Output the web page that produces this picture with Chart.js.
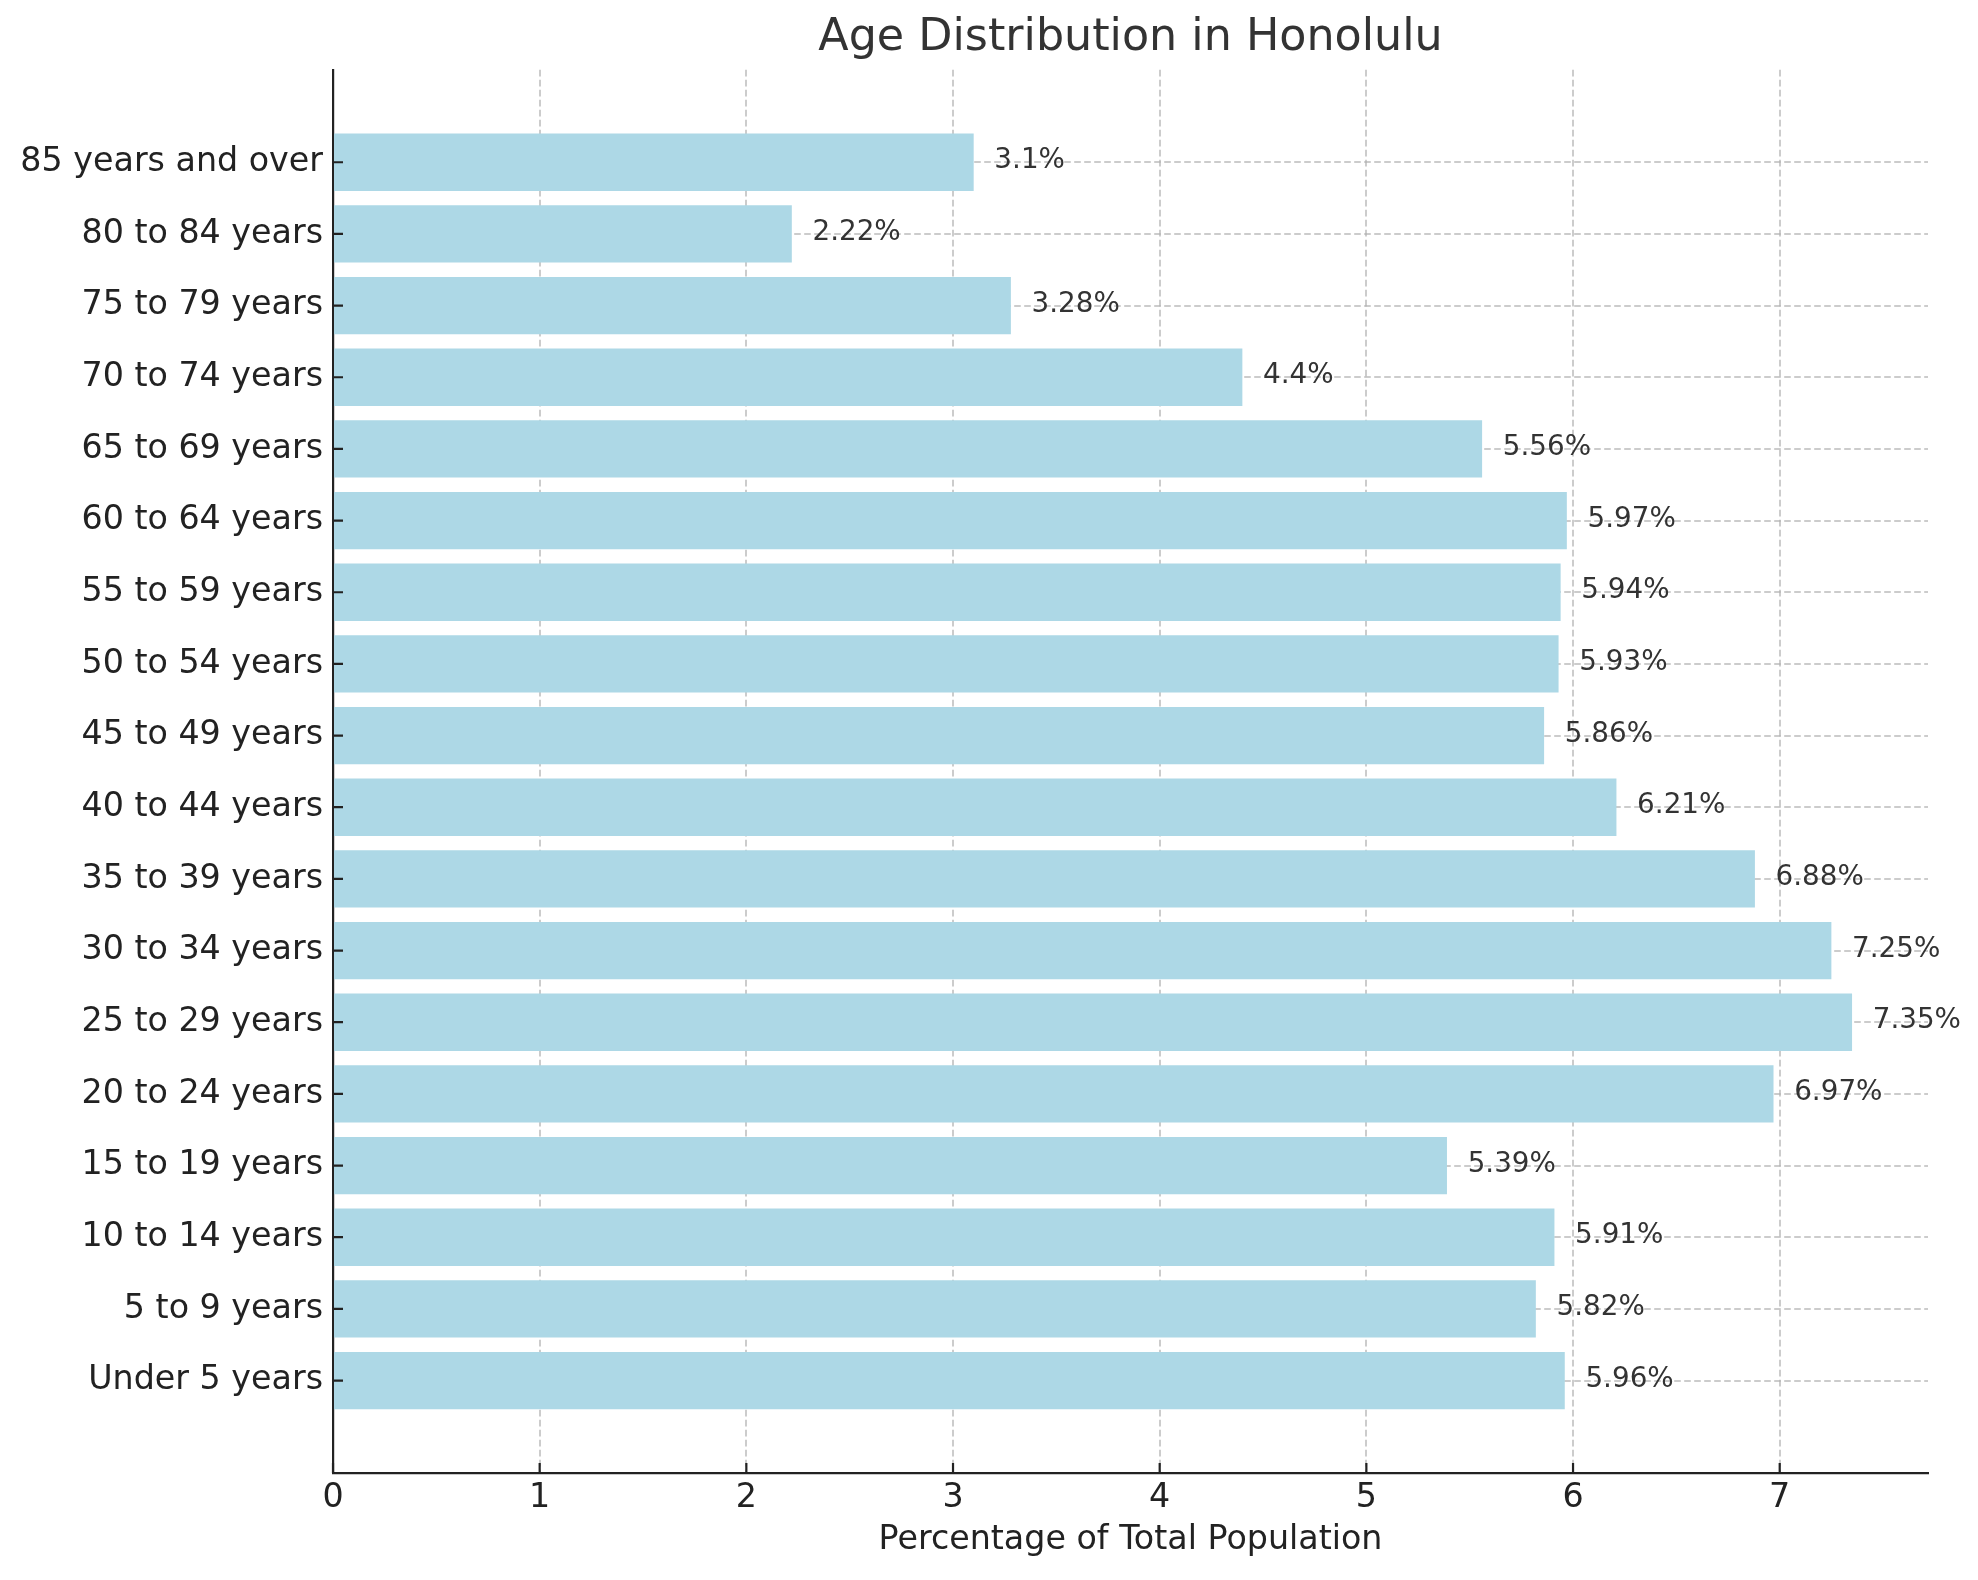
<!DOCTYPE html>
<html>
<head>
<meta charset="utf-8">
<script src="https://cdn.jsdelivr.net/npm/chart.js@4.4.1/dist/chart.umd.min.js"></script>
<style>
  body { margin: 0; background: #fff; }
  #wrap { width: 1978px; height: 1580px; }
</style>
</head>
<body>
<div id="wrap"><canvas id="myChart" width="1978" height="1580"></canvas></div>
<script>
// age groups, bottom to top
var categories = ['Under 5 years', '5 to 9 years', '10 to 14 years', '15 to 19 years',
    '20 to 24 years', '25 to 29 years', '30 to 34 years', '35 to 39 years',
    '40 to 44 years', '45 to 49 years', '50 to 54 years', '55 to 59 years',
    '60 to 64 years', '65 to 69 years', '70 to 74 years', '75 to 79 years',
    '80 to 84 years', '85 years and over'];
var percentages = [5.96, 5.82, 5.91, 5.39, 6.97, 7.35, 7.25, 6.88, 6.21, 5.86,
    5.93, 5.94, 5.97, 5.56, 4.4, 3.28, 2.22, 3.1];
var xTicks = [0, 1, 2, 3, 4, 5, 6, 7];

var font = 'DejaVu Sans';
var axisColor = '#222';
var gridColor = 'rgba(176,176,176,0.65)';

// bar value text and inward tick marks
var extras = {
    id: 'extras',
    afterDraw: function (chart) {
        var c = chart.ctx;
        var xs = chart.scales.x, ys = chart.scales.y;
        var area = chart.chartArea;
        c.save();
        c.strokeStyle = axisColor;
        c.lineWidth = 2.2;
        c.beginPath();
        ys.ticks.forEach(function (t) {
            var py = ys.getPixelForValue(t.value);
            c.moveTo(area.left, py);
            c.lineTo(area.left + 10, py);
        });
        xs.ticks.forEach(function (t) {
            var px = xs.getPixelForValue(t.value);
            c.moveTo(px, area.bottom);
            c.lineTo(px, area.bottom - 10);
        });
        c.stroke();

        c.fillStyle = '#333';
        c.font = '27.8px "' + font + '"';
        c.textBaseline = 'middle';
        c.textAlign = 'left';
        chart.getDatasetMeta(0).data.forEach(function (bar, i) {
            var v = percentages[i];
            c.fillText(v + '%', xs.getPixelForValue(v + 0.1), bar.y - 1);
        });
        c.restore();
    }
};

var ctx = document.getElementById('myChart').getContext('2d');

var myChart = new Chart(ctx, {
    type: 'bar',
    data: {
        datasets: [{
            label: 'Percentage',
            data: percentages.map(function (v, i) { return { x: v, y: i }; }),
            backgroundColor: '#ADD8E6',
            borderWidth: 0,
            barPercentage: 0.8,
            categoryPercentage: 1.0
        }]
    },
    options: {
        indexAxis: 'y',
        responsive: false,
        animation: false,
        devicePixelRatio: 1,
        layout: { padding: { left: 0, right: 50, top: 0, bottom: 0 } },
        plugins: {
            legend: { display: false },
            tooltip: { enabled: false },
            title: {
                display: true,
                text: 'Age Distribution in Honolulu',
                fullSize: false,
                color: '#333',
                font: { family: font, size: 44.4, weight: 'normal' },
                padding: { top: 12, bottom: 4.5 }
            }
        },
        scales: {
            x: {
                type: 'linear',
                min: 0,
                max: 7.7175,
                z: 1,
                afterFit: function (s) { s.height = 107; },
                afterBuildTicks: function (s) {
                    s.ticks = xTicks.map(function (v) { return { value: v }; });
                },
                grid: {
                    color: gridColor,
                    lineWidth: 2,
                    drawTicks: false
                },
                border: { display: true, color: axisColor, width: 2.2, dash: [6.6, 3.4] },
                ticks: {
                    color: axisColor,
                    padding: 5,
                    font: { family: font, size: 33.3 },
                    callback: function (v) { return v; }
                },
                title: {
                    display: true,
                    text: 'Percentage of Total Population',
                    color: axisColor,
                    font: { family: font, size: 33.3 },
                    padding: { top: 0, bottom: 19.6 }
                }
            },
            y: {
                type: 'linear',
                min: -1.29,
                max: 18.29,
                offset: false,
                z: 1,
                afterFit: function (s) { s.width = 333; },
                afterBuildTicks: function (s) {
                    s.ticks = categories.map(function (c, i) { return { value: i }; });
                },
                grid: {
                    offset: false,
                    color: gridColor,
                    lineWidth: 2,
                    drawTicks: false
                },
                border: { display: true, color: axisColor, width: 2.2, dash: [6.6, 3.4] },
                ticks: {
                    color: axisColor,
                    padding: 10,
                    font: { family: font, size: 33.3 },
                    callback: function (v) { return categories[v]; }
                }
            }
        }
    },
    plugins: [extras]
});
</script>
</body>
</html>
